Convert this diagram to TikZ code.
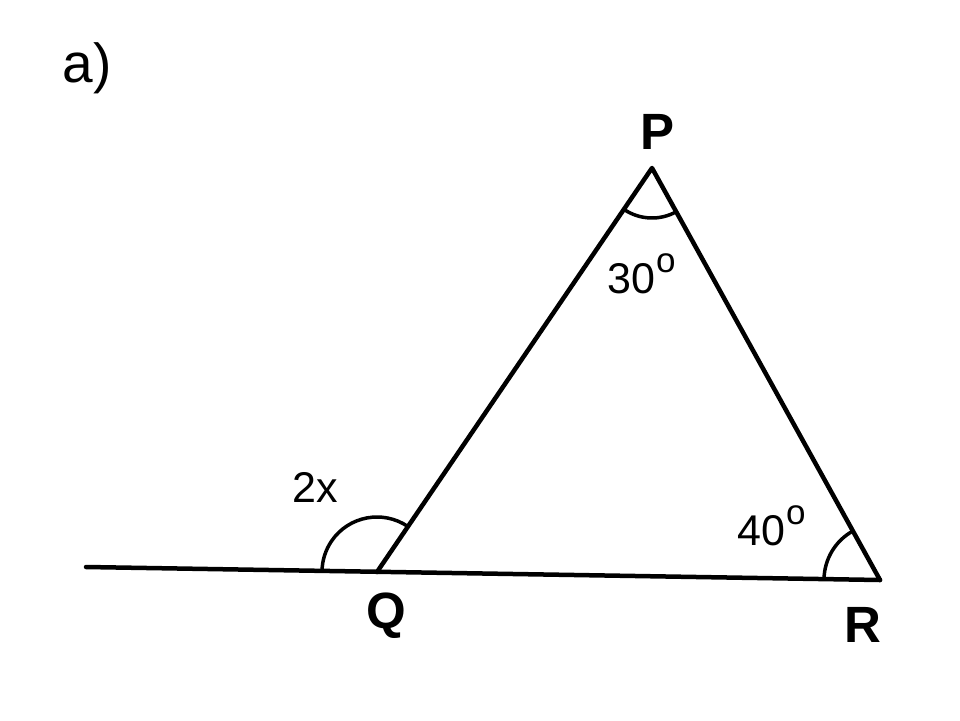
\documentclass[tikz,border=0pt]{standalone}
\usepackage{fontspec}
\setmainfont{Liberation Sans}
\usetikzlibrary{angles}
\newcommand{\dg}{\kern1pt\raisebox{21pt}{\fontsize{35}{35}\selectfont o}}
\begin{document}
\begin{tikzpicture}[x=1pt,y=-1pt,
  edge/.style={line width=4.5pt,line cap=round,line join=round},
  arcmark/.style={draw,line width=3.5pt},
  vlabel/.style={font=\fontsize{51}{51}\selectfont\bfseries,inner sep=0pt},
  alabel/.style={font=\fontsize{43}{43}\selectfont,inner sep=0pt}]
\useasboundingbox (0,0) rectangle (960,720);
\coordinate (L) at (86,567);
\coordinate (Q) at (377,572);
\coordinate (P) at (652,168);
\coordinate (R) at (880,580);
\draw[edge] (L) -- (R);
\draw[edge] (Q) -- (P) -- (R);
\pic[arcmark, angle radius=55pt] {angle = P--Q--L};
\pic[arcmark, angle radius=50pt] {angle = Q--P--R};
\pic[arcmark, angle radius=56pt] {angle = P--R--Q};
\node[font=\fontsize{55}{55}\selectfont,inner sep=0pt] (a) at (87,68) {a)};
\node[vlabel] (lP) at (657,132) {P};
\node[vlabel] (lQ) at (386,616) {Q};
\node[vlabel] (lR) at (863,625) {R};
\node[alabel,anchor=base west] (t30) at (607,293) {30\dg};
\node[alabel] (t2x) at (315,487) {2x};
\node[alabel,anchor=base west] (t40) at (737,545) {40\dg};
\end{tikzpicture}
\end{document}
